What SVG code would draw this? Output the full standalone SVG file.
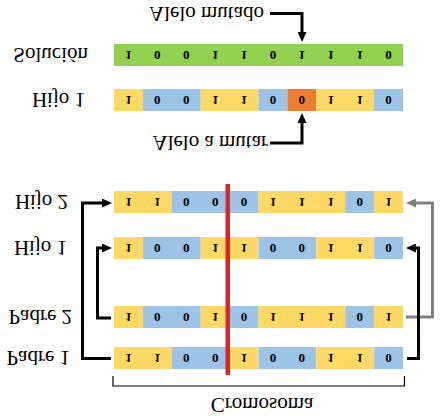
<svg xmlns="http://www.w3.org/2000/svg" width="446" height="420" viewBox="0 0 446 420">
<style>
.y{fill:#FFD966}.b{fill:#9DC3E6}.g{fill:#92D050}.o{fill:#ED7D31}
.d{font-family:"Liberation Serif","Times New Roman",serif;font-size:13px;font-weight:bold;text-anchor:middle;fill:#000}
.l{font-family:"Liberation Serif","Times New Roman",serif;font-size:21px;fill:#000}
.ln{fill:none;stroke:#000;stroke-width:3}
.gl{fill:none;stroke:#808080;stroke-width:3}
</style>
<defs>
<marker id="ab" markerUnits="userSpaceOnUse" markerWidth="10" markerHeight="9" refX="3" refY="4.5" orient="auto"><path d="M0,0 L10,4.5 L0,9 z" fill="#000"/></marker>
<marker id="ag" markerUnits="userSpaceOnUse" markerWidth="10" markerHeight="9" refX="3" refY="4.5" orient="auto"><path d="M0,0 L10,4.5 L0,9 z" fill="#808080"/></marker>
</defs>
<rect width="446" height="420" fill="#fff"/>

<g id="connectors">
<path class="ln" d="M270,13.5 H302 V35" marker-end="url(#ab)"/>
<path class="ln" d="M270,143 H302 V120" marker-end="url(#ab)"/>
<path class="ln" d="M111,358.5 H82.5 V203 H105" marker-end="url(#ab)"/>
<path class="ln" d="M111,318 H97.5 V248 H105" marker-end="url(#ab)"/>
<path class="gl" d="M406,317 H432.5 V203 H413" marker-end="url(#ag)"/>
<path class="ln" d="M407,358.5 H418.5 V248 H413" marker-end="url(#ab)"/>
</g>

<g id="label-alelo-mutado" transform="matrix(1 0 0 -1 0 27)"><text class="l" x="264" y="20.5" text-anchor="end">Alelo mutado</text></g>
<g id="label-alelo-a-mutar" transform="matrix(1 0 0 -1 0 286)"><text class="l" x="268" y="150" text-anchor="end">Alelo a mutar</text></g>

<g id="solucion" transform="matrix(1 0 0 -1 0 110)">
<text class="l" x="88" y="62" text-anchor="end">Solución</text>
<rect class="g" x="114" y="44" width="289" height="22"/>
<text class="d" x="128.45" y="59.4">1</text><text class="d" x="157.35" y="59.4">0</text><text class="d" x="186.25" y="59.4">0</text><text class="d" x="215.15" y="59.4">1</text><text class="d" x="244.05" y="59.4">1</text><text class="d" x="272.95" y="59.4">0</text><text class="d" x="301.85" y="59.4">1</text><text class="d" x="330.75" y="59.4">1</text><text class="d" x="359.65" y="59.4">1</text><text class="d" x="388.55" y="59.4">0</text>
</g>

<g id="hijo1-mutacion" transform="matrix(1 0 0 -1 0 200)">
<text class="l" x="85" y="107" text-anchor="end">Hijo 1</text>
<rect class="y" x="114" y="89" width="28.9" height="22"/>
<rect class="b" x="142.9" y="89" width="57.8" height="22"/>
<rect class="y" x="200.7" y="89" width="57.8" height="22"/>
<rect class="b" x="258.5" y="89" width="28.9" height="22"/>
<rect class="o" x="287.4" y="89" width="28.9" height="22"/>
<rect class="y" x="316.3" y="89" width="57.8" height="22"/>
<rect class="b" x="374.1" y="89" width="28.9" height="22"/>
<text class="d" x="128.45" y="104.4">1</text><text class="d" x="157.35" y="104.4">0</text><text class="d" x="186.25" y="104.4">0</text><text class="d" x="215.15" y="104.4">1</text><text class="d" x="244.05" y="104.4">1</text><text class="d" x="272.95" y="104.4">0</text><text class="d" x="301.85" y="104.4">0</text><text class="d" x="330.75" y="104.4">1</text><text class="d" x="359.65" y="104.4">1</text><text class="d" x="388.55" y="104.4">0</text>
</g>

<g id="hijo2" transform="matrix(1 0 0 -1 0 404)">
<text class="l" x="68" y="209" text-anchor="end">Hijo 2</text>
<rect class="y" x="114" y="191" width="57.8" height="22"/>
<rect class="b" x="171.8" y="191" width="86.7" height="22"/>
<rect class="y" x="258.5" y="191" width="86.7" height="22"/>
<rect class="b" x="345.2" y="191" width="28.9" height="22"/>
<rect class="y" x="374.1" y="191" width="28.9" height="22"/>
<text class="d" x="128.45" y="206.4">1</text><text class="d" x="157.35" y="206.4">1</text><text class="d" x="186.25" y="206.4">0</text><text class="d" x="215.15" y="206.4">0</text><text class="d" x="244.05" y="206.4">0</text><text class="d" x="272.95" y="206.4">1</text><text class="d" x="301.85" y="206.4">1</text><text class="d" x="330.75" y="206.4">1</text><text class="d" x="359.65" y="206.4">0</text><text class="d" x="388.55" y="206.4">1</text>
</g>

<g id="hijo1" transform="matrix(1 0 0 -1 0 496)">
<text class="l" x="67" y="255" text-anchor="end">Hijo 1</text>
<rect class="y" x="114" y="237" width="28.9" height="22"/>
<rect class="b" x="142.9" y="237" width="57.8" height="22"/>
<rect class="y" x="200.7" y="237" width="57.8" height="22"/>
<rect class="b" x="258.5" y="237" width="57.8" height="22"/>
<rect class="y" x="316.3" y="237" width="57.8" height="22"/>
<rect class="b" x="374.1" y="237" width="28.9" height="22"/>
<text class="d" x="128.45" y="252.4">1</text><text class="d" x="157.35" y="252.4">0</text><text class="d" x="186.25" y="252.4">0</text><text class="d" x="215.15" y="252.4">1</text><text class="d" x="244.05" y="252.4">1</text><text class="d" x="272.95" y="252.4">0</text><text class="d" x="301.85" y="252.4">0</text><text class="d" x="330.75" y="252.4">1</text><text class="d" x="359.65" y="252.4">1</text><text class="d" x="388.55" y="252.4">0</text>
</g>

<g id="padre2" transform="matrix(1 0 0 -1 0 634)">
<text class="l" x="72" y="324" text-anchor="end">Padre 2</text>
<rect class="y" x="114" y="306" width="28.9" height="22"/>
<rect class="b" x="142.9" y="306" width="57.8" height="22"/>
<rect class="y" x="200.7" y="306" width="28.9" height="22"/>
<rect class="b" x="229.6" y="306" width="28.9" height="22"/>
<rect class="y" x="258.5" y="306" width="86.7" height="22"/>
<rect class="b" x="345.2" y="306" width="28.9" height="22"/>
<rect class="y" x="374.1" y="306" width="28.9" height="22"/>
<text class="d" x="128.45" y="321.4">1</text><text class="d" x="157.35" y="321.4">0</text><text class="d" x="186.25" y="321.4">0</text><text class="d" x="215.15" y="321.4">1</text><text class="d" x="244.05" y="321.4">0</text><text class="d" x="272.95" y="321.4">1</text><text class="d" x="301.85" y="321.4">1</text><text class="d" x="330.75" y="321.4">1</text><text class="d" x="359.65" y="321.4">0</text><text class="d" x="388.55" y="321.4">1</text>
</g>

<g id="padre1" transform="matrix(1 0 0 -1 0 716)">
<text class="l" x="70" y="365" text-anchor="end">Padre 1</text>
<rect class="y" x="114" y="347" width="57.8" height="22"/>
<rect class="b" x="171.8" y="347" width="57.8" height="22"/>
<rect class="y" x="229.6" y="347" width="28.9" height="22"/>
<rect class="b" x="258.5" y="347" width="57.8" height="22"/>
<rect class="y" x="316.3" y="347" width="57.8" height="22"/>
<rect class="b" x="374.1" y="347" width="28.9" height="22"/>
<text class="d" x="128.45" y="362.4">1</text><text class="d" x="157.35" y="362.4">1</text><text class="d" x="186.25" y="362.4">0</text><text class="d" x="215.15" y="362.4">0</text><text class="d" x="244.05" y="362.4">1</text><text class="d" x="272.95" y="362.4">0</text><text class="d" x="301.85" y="362.4">0</text><text class="d" x="330.75" y="362.4">1</text><text class="d" x="359.65" y="362.4">1</text><text class="d" x="388.55" y="362.4">0</text>
</g>

<g id="corte"><rect x="225.5" y="184" width="4.5" height="191" fill="#E52128"/></g>

<g id="cromosoma">
<path d="M113,376 V386 H404.5 V376" fill="none" stroke="#000" stroke-width="1.2"/>
<g transform="matrix(1 0 0 -1 0 810)"><text class="l" x="262" y="412" text-anchor="middle">Cromosoma</text></g>
</g>
</svg>
